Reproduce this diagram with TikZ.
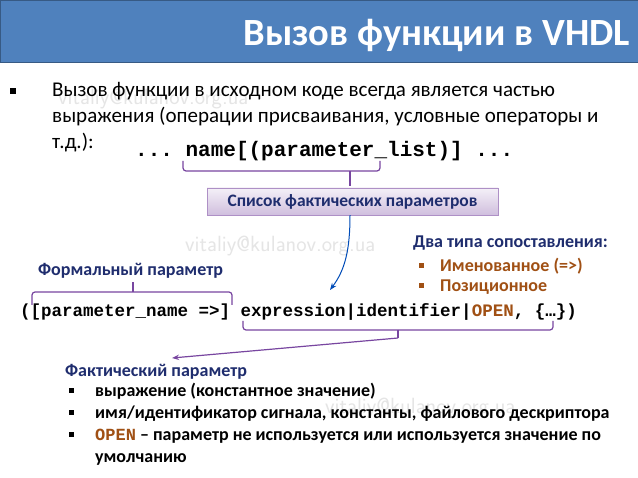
\documentclass[tikz,border=0pt]{standalone}
\usepackage{fontspec}
\setmainfont{Carlito}
\setmonofont{Liberation Mono}
\usetikzlibrary{arrows.meta}
\definecolor{navy}{RGB}{31,45,110}
\definecolor{brn}{RGB}{160,80,20}
\definecolor{purp}{RGB}{120,70,160}
\definecolor{titleblue}{RGB}{79,129,189}
\tikzset{
  txt/.style={anchor=base west,inner sep=0pt,font=\fontsize{18}{20}\selectfont\bfseries},
  body/.style={anchor=base west,inner sep=0pt,font=\fontsize{21}{24}\selectfont},
  code/.style={anchor=base west,inner sep=0pt},
  wm/.style={anchor=base west,inner sep=0pt,text=black!10,font=\fontsize{22}{24}\selectfont\sffamily},
  brace/.style={purp,line width=1.2pt,rounded corners=3pt},
  sq/.style={fill=black,minimum size=5pt,inner sep=0pt}
}
\begin{document}
\begin{tikzpicture}[x=1pt,y=-1pt]
\useasboundingbox (0,0) rectangle (638,478);
\fill[white] (0,0) rectangle (638,478);
% watermarks
\node[wm] (w1) at (58,105) {vitaliy@kulanov.org.ua};
\node[wm] (w2) at (185,252) {vitaliy@kulanov.org.ua};
\node[wm] (w3) at (325,414) {vitaliy@kulanov.org.ua};
% title
\fill[titleblue,draw=titleblue!70!black] (0,0) rectangle (638,62);
\node[anchor=base east,inner sep=0pt,text=white,font=\fontsize{38.5}{40}\selectfont\bfseries] (title) at (630,46) {Вызов функции в VHDL};
% bullet text
\node[sq,minimum size=6pt] (b0) at (13,91) {};
\node[body] (l1) at (52,97) {Вызов функции в исходном коде всегда является частью};
\node[body] (l2) at (52,123) {выражения (операции присваивания, условные операторы и};
\node[body] (l3) at (52,149) {т.д.):};
\node[code,font=\fontsize{21}{22}\selectfont\ttfamily\bfseries] (c1) at (135,157) {... name[(parameter\_list)] ...};
% brace 1
\draw[brace] (183,161) -- (183,171) -- (380,171) -- (380,161);
\coordinate (m1) at (350,171);
\coordinate (m1b) at (350,186);
\draw[purp,line width=1.2pt] (m1) -- (m1b);
% box
\node[draw=purp!60,top color=purp!8,bottom color=purp!35,minimum width=291pt,minimum height=27pt,inner sep=0pt,font=\fontsize{17.5}{19}\selectfont\bfseries,text=navy] (box) at (352.5,201.5) {Список фактических параметров};
\coordinate (arrEnd) at (330,290);
\draw[-{Stealth[length=7pt]},blue!60!black!70!cyan,line width=1pt] (box.south -| 350,0) .. controls (350,250) and (345,270) .. (arrEnd);
% right notes
\node[txt,text=navy] (two) at (413,248) {Два типа сопоставления:};
\node[sq,fill=brn] (bb1) at (421,266) {};
\node[txt,text=brn] (n1) at (440,272) {Именованное (=>)};
\node[sq,fill=brn] (bb2) at (421,286) {};
\node[txt,text=brn] (n2) at (440,292) {Позиционное};
\node[txt,text=navy] (form) at (38,276) {Формальный параметр};
% brace 2
\draw[brace] (32,305) -- (32,292) -- (232,292) -- (232,305);
\coordinate (m2) at (133,292);
\coordinate (m2b) at (133,282);
\draw[purp,line width=1.2pt] (m2) -- (m2b);
% code line
\node[code,font=\fontsize{17.5}{18}\selectfont\ttfamily\bfseries] (c2) at (20,317) {([parameter\_name =>] expression|identifier|\textcolor{brn}{OPEN}, \{…\})};
% brace 3
\draw[brace] (243,321) -- (243,330) -- (553,330) -- (553,321);
\coordinate (m3) at (398,330);
\coordinate (m3b) at (398,338);
\coordinate (a3) at (172,358);
\draw[purp,line width=1.2pt] (m3) -- (m3b);
\draw[-{Stealth[length=7pt]},purp,line width=1.2pt] (m3b) -- (a3);
% actual
\node[txt,text=navy] (fact) at (65,377) {Фактический параметр};
\node[sq] (q1) at (71,391) {};
\node[txt] (t1) at (95,397) {выражение (константное значение)};
\node[sq] (q2) at (71,413) {};
\node[txt] (t2) at (95,419) {имя/идентификатор сигнала, константы, файлового дескриптора};
\node[sq] (q3) at (71,435) {};
\node[txt] (t3) at (95,441) {\textcolor{brn}{\fontsize{17}{18}\selectfont\ttfamily OPEN} – параметр не используется или используется значение по};
\node[txt] (t4) at (95,463) {умолчанию};
\end{tikzpicture}
\end{document}
